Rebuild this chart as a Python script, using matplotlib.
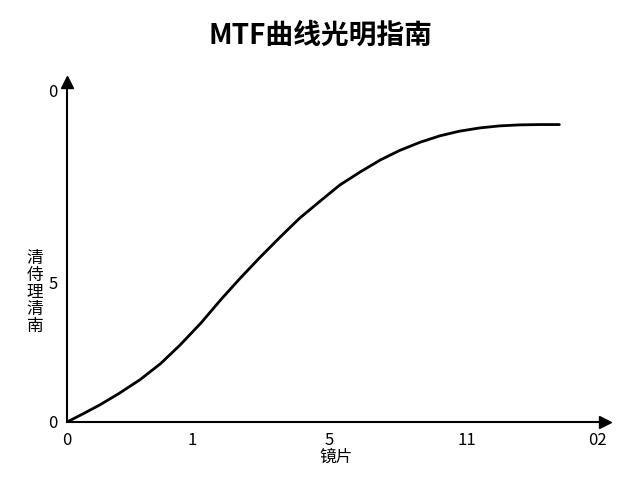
import matplotlib
matplotlib.use("Agg")
import matplotlib.pyplot as plt

plt.rcParams['font.family'] = ['Noto Sans CJK SC', 'DejaVu Sans']

curve_x = [0, 0.12, 0.25, 0.40, 0.56, 0.72, 0.87, 1.03, 1.18, 1.33, 1.48, 1.64, 1.79, 1.95,
           2.10, 2.26, 2.41, 2.56, 2.72, 2.87, 3.02, 3.18, 3.33, 3.48, 3.64, 3.79]
curve_y = [0, 0.24, 0.51, 0.86, 1.27, 1.76, 2.32, 2.98, 3.67, 4.32, 4.94, 5.57, 6.14, 6.66,
           7.14, 7.54, 7.89, 8.18, 8.43, 8.62, 8.76, 8.86, 8.92, 8.95, 8.96, 8.96]
xtick_pos = [0, 0.96, 2.02, 3.08, 4.08]
xtick_labels = ["0", "1", "5", "11", "02"]
ytick_pos = [0, 4.2, 10.0]
ytick_labels = ["0", "5", "0"]

fig = plt.figure(figsize=(6.4, 4.8), dpi=100)
ax = fig.add_axes([0.105, 0.121, 0.84, 0.708])
ax.plot(curve_x, curve_y, color="black", lw=2, solid_capstyle="round", solid_joinstyle="round")
ax.set_xlim(0, 4.14)
ax.set_ylim(0, 10.24)
for s in ["top", "right"]:
    ax.spines[s].set_visible(False)
for s in ["left", "bottom"]:
    ax.spines[s].set_linewidth(1.5)
ax.plot(1, 0, ">k", transform=ax.transAxes, clip_on=False, markersize=8)
ax.plot(0, 1, "^k", transform=ax.transAxes, clip_on=False, markersize=8)
ax.set_xticks(xtick_pos, xtick_labels, fontsize=12)
ax.set_yticks(ytick_pos, ytick_labels, fontsize=12)
ax.tick_params(length=0, pad=7)
ax.set_xlabel("镜片", fontsize=12, labelpad=0)
ax.set_ylabel("清\n侍\n理\n清\n南", fontsize=12, rotation=0, va="center", labelpad=12, linespacing=1.0)
ax.yaxis.set_label_coords(-0.06, 0.38)
fig.suptitle("MTF曲线光明指南", fontsize=20, fontweight="bold", y=0.955)
fig.savefig("out.png", dpi=100, facecolor="white")
